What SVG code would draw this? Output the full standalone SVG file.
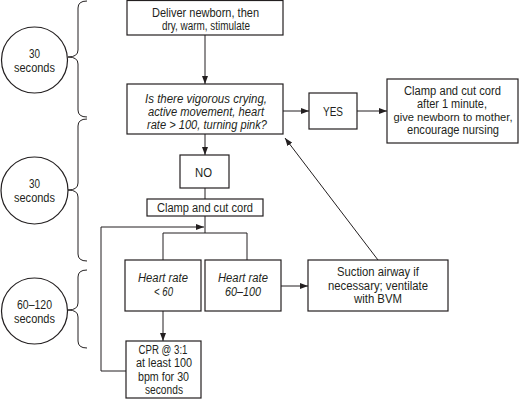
<svg xmlns="http://www.w3.org/2000/svg" width="519" height="400" viewBox="0 0 519 400">
<defs>
<marker id="ah" markerWidth="8" markerHeight="6" refX="8" refY="3" orient="auto" markerUnits="userSpaceOnUse">
<path d="M0,0 L8,3 L0,6 Z" fill="#231f20"/>
</marker>
<style>
.box{fill:#fff;stroke:#231f20;stroke-width:1.2}
.ln{fill:none;stroke:#231f20;stroke-width:1}
.t{font-family:"Liberation Sans",Arial,sans-serif;font-size:12px;fill:#231f20;text-anchor:middle}
.i{font-style:italic}
</style>
</defs>
<rect width="519" height="400" fill="#fff"/>

<g id="timeline">
<circle class="box" cx="34.5" cy="60" r="33"/>
<text class="t" x="34.5" y="58" textLength="11" lengthAdjust="spacingAndGlyphs">30</text>
<text class="t" x="34.5" y="72" textLength="41" lengthAdjust="spacingAndGlyphs">seconds</text>
<path class="ln" d="M87,1 Q78,1 78,8 L78,50 Q78,57 68,57 Q78,57 78,64 L78,110 Q78,117 87,117"/>
<circle class="box" cx="34.5" cy="190.5" r="33.5"/>
<text class="t" x="34.5" y="188" textLength="11" lengthAdjust="spacingAndGlyphs">30</text>
<text class="t" x="34.5" y="202" textLength="41" lengthAdjust="spacingAndGlyphs">seconds</text>
<path class="ln" d="M87,119 Q78,119 78,126 L78,183 Q78,190 68,190 Q78,190 78,197 L78,254 Q78,261 87,261"/>
<circle class="box" cx="34.5" cy="311" r="33"/>
<text class="t" x="34.5" y="309" textLength="35" lengthAdjust="spacingAndGlyphs">60–120</text>
<text class="t" x="34.5" y="323" textLength="41" lengthAdjust="spacingAndGlyphs">seconds</text>
<path class="ln" d="M87,270 Q78,270 78,277 L78,303 Q78,310 68,310 Q78,310 78,317 L78,341 Q78,348 87,348"/>
</g>

<g id="connectors">
<line class="ln" x1="205" y1="35" x2="205" y2="84" marker-end="url(#ah)"/>
<line class="ln" x1="283" y1="111" x2="309" y2="111" marker-end="url(#ah)"/>
<line class="ln" x1="357" y1="111" x2="387" y2="111" marker-end="url(#ah)"/>
<line class="ln" x1="205" y1="134" x2="205" y2="155" marker-end="url(#ah)"/>
<line class="ln" x1="205" y1="188" x2="205" y2="199"/>
<path class="ln" d="M205,216 L205,233 M163,260 L163,233 L247,233 L247,260"/>
<line class="ln" x1="281" y1="286" x2="308" y2="286" marker-end="url(#ah)"/>
<line class="ln" x1="378" y1="260" x2="285" y2="138" marker-end="url(#ah)"/>
<line class="ln" x1="163" y1="311" x2="163" y2="341" marker-end="url(#ah)"/>
<path class="ln" d="M126,371 L101,371 L101,227 L204,227" marker-end="url(#ah)"/>
</g>

<g id="deliver">
<rect class="box" x="127" y="0.5" width="156" height="34.5"/>
<text class="t" x="205.5" y="17" textLength="107" lengthAdjust="spacingAndGlyphs">Deliver newborn, then</text>
<text class="t" x="206" y="30" textLength="88" lengthAdjust="spacingAndGlyphs">dry, warm, stimulate</text>
</g>

<g id="question">
<rect class="box" x="127" y="84" width="156" height="50"/>
<text class="t i" x="206" y="102.5" textLength="122" lengthAdjust="spacingAndGlyphs">Is there vigorous crying,</text>
<text class="t i" x="206" y="115.5" textLength="116" lengthAdjust="spacingAndGlyphs">active movement, heart</text>
<text class="t i" x="207" y="128.5" textLength="120" lengthAdjust="spacingAndGlyphs">rate &gt; 100, turning pink?</text>
</g>

<g id="yes">
<rect class="box" x="309" y="93" width="48" height="36"/>
<text class="t" x="333" y="115.5" textLength="20" lengthAdjust="spacingAndGlyphs">YES</text>
</g>

<g id="clamp-after">
<rect class="box" x="387" y="79" width="131" height="64"/>
<text class="t" x="452.5" y="95" textLength="97" lengthAdjust="spacingAndGlyphs">Clamp and cut cord</text>
<text class="t" x="452" y="108" textLength="70" lengthAdjust="spacingAndGlyphs">after 1 minute,</text>
<text class="t" x="453" y="121" style="font-size:11.5px" textLength="119" lengthAdjust="spacingAndGlyphs">give newborn to mother,</text>
<text class="t" x="453" y="134" textLength="92" lengthAdjust="spacingAndGlyphs">encourage nursing</text>
</g>

<g id="no">
<rect class="box" x="180" y="155" width="49" height="33"/>
<text class="t" x="203.5" y="177" textLength="17" lengthAdjust="spacingAndGlyphs">NO</text>
</g>

<g id="clamp">
<rect class="box" x="147" y="199" width="116" height="17"/>
<text class="t" x="205" y="212" textLength="96" lengthAdjust="spacingAndGlyphs">Clamp and cut cord</text>
</g>

<g id="hr-low">
<rect class="box" x="125" y="260" width="76" height="51"/>
<text class="t i" x="163" y="282" textLength="50" lengthAdjust="spacingAndGlyphs">Heart rate</text>
<text class="t i" x="163.5" y="296" textLength="19" lengthAdjust="spacingAndGlyphs">&lt; 60</text>
</g>

<g id="hr-mid">
<rect class="box" x="205" y="260" width="76" height="51"/>
<text class="t i" x="243" y="282" textLength="50" lengthAdjust="spacingAndGlyphs">Heart rate</text>
<text class="t i" x="243" y="296" textLength="36" lengthAdjust="spacingAndGlyphs">60–100</text>
</g>

<g id="suction">
<rect class="box" x="308" y="260" width="140" height="51"/>
<text class="t" x="378" y="276" textLength="82" lengthAdjust="spacingAndGlyphs">Suction airway if</text>
<text class="t" x="378" y="289.5" textLength="100" lengthAdjust="spacingAndGlyphs">necessary; ventilate</text>
<text class="t" x="378" y="303" textLength="48" lengthAdjust="spacingAndGlyphs">with BVM</text>
</g>

<g id="cpr">
<rect class="box" x="126" y="341" width="75" height="57"/>
<text class="t" x="163" y="353.5" textLength="49" lengthAdjust="spacingAndGlyphs">CPR @ 3:1</text>
<text class="t" x="164" y="367" textLength="56" lengthAdjust="spacingAndGlyphs">at least 100</text>
<text class="t" x="163.5" y="380.5" textLength="51" lengthAdjust="spacingAndGlyphs">bpm for 30</text>
<text class="t" x="164" y="394" textLength="38" lengthAdjust="spacingAndGlyphs">seconds</text>
</g>
</svg>
